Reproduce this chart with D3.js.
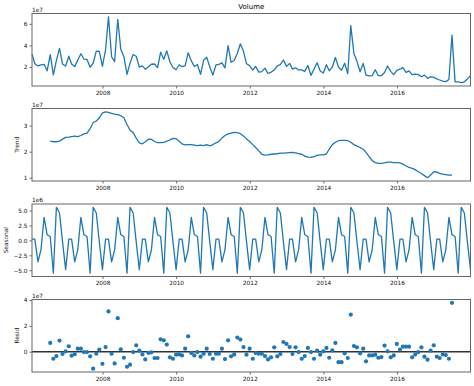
<!DOCTYPE html>
<html>
<head>
<meta charset="utf-8">
<script src="https://cdn.jsdelivr.net/npm/d3@7"></script>
<style>
  body { margin: 0; background: #fff; }
  text { font-family: "DejaVu Sans", sans-serif; }
</style>
</head>
<body>
<div id="chart"></div>
<script>
// monthly series, Jan 2006 .. Dec 2017 (month-end dates)
var firstYear = 2006;
var monthCount = 144;

// observed volume (x 1e7)
var volume = [
  3.2, 2.3, 2.1, 2.2, 2.25, 1.65,
  3.14, 1.28, 2.59, 3.72, 2.28, 2.09,
  3.0, 2.29, 2.04, 2.65, 3.23, 2.74,
  2.7, 1.97, 2.35, 3.47, 3.44, 2.06,
  3.6, 6.65, 2.95, 2.5, 6.42, 3.65,
  2.95, 1.32, 2.36, 3.16, 3.0, 2.0,
  2.11, 1.8, 2.02, 2.26, 2.28, 1.95,
  3.37, 2.72, 3.5, 2.47, 1.96, 1.75,
  2.21, 2.03, 2.13, 3.32, 2.57, 2.05,
  2.24, 1.32, 2.62, 2.9, 2.02, 1.25,
  2.2, 2.25, 2.39, 1.92, 3.98, 2.44,
  2.6, 3.27, 4.15, 3.45, 2.3, 2.13,
  1.72, 2.05, 1.53, 1.58, 1.9, 1.4,
  1.52, 1.72, 2.11, 2.22, 2.65, 2.06,
  2.34, 1.81, 1.93, 1.73, 1.73, 1.6,
  2.14, 1.22, 1.81, 2.4, 1.63, 1.45,
  2.22, 1.65, 2.01, 2.88, 1.99, 1.71,
  2.36, 1.38, 5.82, 3.25, 2.53, 1.56,
  2.34, 1.26, 1.18,
  1.2, 1.75, 1.2, 1.2, 1.5, 2.1,
  1.6, 1.3, 1.7, 1.8, 1.95, 1.5,
  1.65, 1.3, 1.35, 1.3, 1.1, 1.25,
  0.95, 1.1, 1.05, 0.9, 0.8, 0.7, 0.65, 0.85,
  4.95, 0.63, 0.63, 0.55, 0.63, 0.9, 1.2
];

// trend (x 1e7), starts at month index 6
var trendStart = 6;
var trend = [
  2.40, 2.38, 2.38, 2.40, 2.48, 2.55, 2.56, 2.58, 2.6, 2.58, 2.62, 2.68,
  2.71, 2.88, 3.12, 3.17, 3.3, 3.49, 3.53, 3.51, 3.47, 3.44, 3.42, 3.38,
  3.3, 3.04, 2.82, 2.73, 2.52, 2.34, 2.3, 2.38, 2.48, 2.47, 2.39, 2.35,
  2.35, 2.36, 2.4, 2.45, 2.51, 2.5, 2.4, 2.3, 2.26, 2.27, 2.27, 2.25,
  2.23, 2.25, 2.23, 2.27, 2.22, 2.27, 2.34, 2.39, 2.52, 2.62, 2.68, 2.71,
  2.74, 2.73, 2.69, 2.6, 2.49, 2.39, 2.27, 2.16, 2.03, 1.9, 1.87, 1.88,
  1.9, 1.91, 1.92, 1.94, 1.94, 1.95, 1.96, 1.97, 1.95, 1.92, 1.9, 1.83,
  1.79, 1.78, 1.81, 1.86, 1.88, 1.88, 1.91, 2.1, 2.27, 2.36, 2.42, 2.43,
  2.43, 2.42, 2.36, 2.27, 2.21, 2.16, 2.09, 1.97, 1.81, 1.66, 1.58, 1.55,
  1.55, 1.57, 1.6, 1.6, 1.58, 1.58, 1.57, 1.52, 1.45, 1.4, 1.36, 1.31,
  1.23, 1.16, 1.08, 1.0, 1.1, 1.23, 1.21, 1.17, 1.14, 1.12, 1.1, 1.1
];

// seasonal component by calendar month Jan..Dec (x 1e6)
var seasonalByMonth = [0.2, 0.2, -3.6, -1.6, 3.85, 0.95, 0.65, -5.5, 5.55, 4.6, -0.2, -4.9];

// residuals (x 1e7), same months as trend
var resid = [
  0.68, -0.55, -0.34, 0.86, -0.18, 0.03, 0.42, -0.31, -0.2, 0.23, 0.23, -0.03,
  -0.03, -0.36, -1.32, -0.16, 0.16, -0.94, 0.36, 3.12, -0.16, -0.91, 2.6, 0.18,
  -0.47, -1.17, -1.01, -0.03, 0.49, 0.08, -0.21, -0.6, -0.1, -0.05, -0.49, -0.49,
  0.96, 0.88, 0.55, -0.44, -0.55, -0.23, -0.21, -0.29, 0.23, 1.19, -0.1, -0.29,
  -0.03, -0.39, -0.16, 0.23, -0.18, -0.55, -0.16, -0.16, 0.23, -0.57, 0.88, -0.36,
  -0.21, 1.09, 0.94, 0.36, -0.23, 0.23, -0.55, -0.1, -0.16, -0.16, -0.34, -0.6,
  -0.44, 0.34, -0.36, -0.18, 0.75, 0.6, 0.36, -0.18, 0.34, -0.03, -0.55, -0.34,
  0.29, -0.03, -0.55, 0.08, -0.23, 0.03, 0.29, -0.47, 0.1, 0.68, -0.81, -0.81,
  -0.13, -0.49, 2.88, 0.44, 0.34, -0.13, 0.23, -0.75, -0.29, -0.29, -0.23, -0.47,
  -0.42, 0.47, 0.03, -0.44, -0.29, 0.6, 0.16, 0.39, 0.39, 0.39, -0.44, -0.21,
  -0.03, 0.34, -0.39, -0.62, 0.08, 0.49, -0.39, -0.49, -0.21, -0.26, -0.55, 3.79
];

var yearTicks = [2008, 2010, 2012, 2014, 2016];
var volumeTicks = [2, 4, 6];
var trendTicks = [1, 2, 3];
var seasonalTicks = [-5.0, -2.5, 0.0, 2.5, 5.0];
var residTicks = [0, 2, 4];

var W = 474, H = 386;
var left = 32, right = 470.5, panelH = 72.5;
var tops = [13.5, 108.5, 204, 299.5];
var blue = '#1f77b4';
var fs = 5.8;

var dates = d3.range(monthCount).map(function(i) { return new Date(firstYear, i + 1, 0); });

var seasonal = dates.map(function(d) { return seasonalByMonth[d.getMonth()]; });

function withDates(vals, start) {
  return vals.map(function(v, i) { return { date: dates[i + start], value: v }; });
}

var panels = [
  { title: 'Volume', label: null, data: withDates(volume, 0), ticks: volumeTicks, fmt: d3.format('d'), exp: '1e7', kind: 'line' },
  { title: null, label: 'Trend', data: withDates(trend, trendStart), ticks: trendTicks, fmt: d3.format('d'), exp: '1e7', kind: 'line' },
  { title: null, label: 'Seasonal', data: withDates(seasonal, 0), ticks: seasonalTicks, fmt: d3.format('.1f'), exp: '1e6', kind: 'line' },
  { title: null, label: 'Resid', data: withDates(resid, trendStart), ticks: residTicks, fmt: d3.format('d'), exp: '1e7', kind: 'dots' }
];

var svg = d3.select('#chart').append('svg')
  .attr('width', W)
  .attr('height', H);

var x = d3.scaleTime()
  .domain([dates[0], dates[monthCount - 1]])
  .range([left, right]);

panels.forEach(function(p, k) {
  var top = tops[k], bottom = top + panelH;
  var ext = d3.extent(p.data, function(d) { return d.value; });
  var pad = (ext[1] - ext[0]) * 0.05;
  var y = d3.scaleLinear()
    .domain([ext[0] - pad, ext[1] + pad])
    .range([bottom, top]);

  var g = svg.append('g');

  if (p.kind === 'line') {
    g.append('path')
      .datum(p.data)
      .attr('fill', 'none')
      .attr('stroke', blue)
      .attr('stroke-width', 1.3)
      .attr('stroke-linejoin', 'round')
      .attr('d', d3.line()
        .x(function(d) { return x(d.date); })
        .y(function(d) { return y(d.value); }));
  } else {
    g.append('line')
      .attr('x1', left).attr('x2', right)
      .attr('y1', y(0)).attr('y2', y(0))
      .attr('stroke', '#333')
      .attr('stroke-width', 1.4);
    g.selectAll('circle')
      .data(p.data)
      .enter().append('circle')
      .attr('cx', function(d) { return x(d.date); })
      .attr('cy', function(d) { return y(d.value); })
      .attr('r', 2.1)
      .attr('fill', blue);
  }

  // x axis
  var xa = g.append('g')
    .attr('transform', 'translate(0,' + bottom + ')')
    .call(d3.axisBottom(x)
      .tickValues(yearTicks.map(function(yr) { return new Date(yr, 0, 1); }))
      .tickFormat(d3.timeFormat('%Y'))
      .tickSize(2.5)
      .tickPadding(2));

  // y axis
  var ya = g.append('g')
    .attr('transform', 'translate(' + left + ',0)')
    .call(d3.axisLeft(y)
      .tickValues(p.ticks)
      .tickFormat(p.fmt)
      .tickSize(2.5)
      .tickPadding(2));

  [xa, ya].forEach(function(a) {
    a.select('.domain').remove();
    a.selectAll('line').attr('stroke', '#444').attr('stroke-width', 0.8);
    a.selectAll('text').attr('font-size', fs).attr('fill', '#111')
      .attr('font-family', '"DejaVu Sans", sans-serif');
  });

  // frame
  g.append('rect')
    .attr('x', left).attr('y', top)
    .attr('width', right - left).attr('height', panelH)
    .attr('fill', 'none')
    .attr('stroke', '#666')
    .attr('stroke-width', 1);

  // offset text
  g.append('text')
    .attr('x', left)
    .attr('y', top - 1.6)
    .attr('font-size', fs)
    .attr('fill', '#111')
    .text(p.exp);

  if (p.title) {
    g.append('text')
      .attr('x', (left + right) / 2)
      .attr('y', top - 4.2)
      .attr('text-anchor', 'middle')
      .attr('font-size', 7)
      .attr('fill', '#000')
      .text(p.title);
  }

  if (p.label) {
    var minX = d3.min(ya.selectAll('text').nodes(), function(n) { return n.getBBox().x; });
    var lx = left + minX - 5;
    g.append('text')
      .attr('transform', 'translate(' + lx + ',' + (top + panelH / 2) + ') rotate(-90)')
      .attr('text-anchor', 'middle')
      .attr('font-size', fs)
      .attr('fill', '#111')
      .text(p.label);
  }
});
</script>
</body>
</html>
